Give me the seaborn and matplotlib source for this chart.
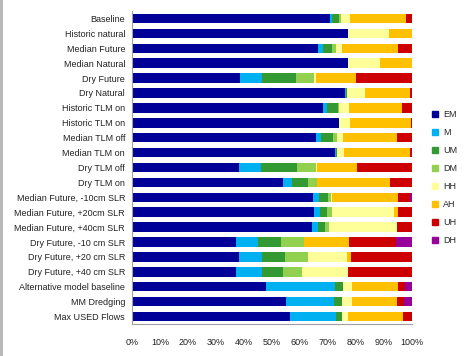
import numpy as np
import pandas as pd
import seaborn as sns
import matplotlib.pyplot as plt
from matplotlib.lines import Line2D
from matplotlib.patches import Rectangle

scenarios = ["Baseline", "Historic natural", "Median Future", "Median Natural",
             "Dry Future", "Dry Natural", "Historic TLM on", "Historic TLM on",
             "Median TLM off", "Median TLM on", "Dry TLM off", "Dry TLM on",
             "Median Future, -10cm SLR", "Median Future, +20cm SLR",
             "Median Future, +40cm SLR", "Dry Future, -10 cm SLR",
             "Dry Future, +20 cm SLR", "Dry Future, +40 cm SLR",
             "Alternative model baseline", "MM Dredging", "Max USED Flows"]

EM = [70.7, 77.1, 66.5, 77.0, 38.7, 76.0, 68.4, 74.1, 65.7, 72.7, 38.1,
      53.9, 64.8, 65.0, 64.4, 37.2, 38.1, 37.3, 48.0, 55.0, 56.5]
M = [0.7, 0, 1.8, 0, 7.7, 0.3, 1.4, 0, 1.8, 0.2, 7.9,
     3.3, 1.9, 2.1, 2.1, 7.8, 8.3, 9.0, 24.4, 17.3, 16.5]
UM = [2.5, 0, 3.3, 0, 12.1, 0.5, 3.7, 0, 4.4, 0.3, 12.9,
      5.7, 3.5, 2.6, 2.3, 8.3, 8.1, 7.5, 2.9, 2.9, 2.2]
DM = [0.6, 0, 1.2, 0, 6.5, 0, 0.6, 0, 1.3, 0, 6.9,
      3.1, 0.8, 1.7, 1.5, 8.0, 8.2, 7.0, 0, 0, 0]
HH = [3.5, 14.7, 2.4, 11.5, 0.6, 6.5, 3.6, 3.8, 2.2, 2.6, 0.2,
      0, 0.6, 22.1, 24.2, 0, 14.1, 16.5, 3.3, 3.4, 2.0]
AH = [20.0, 8.2, 19.9, 11.5, 14.5, 15.9, 18.7, 21.6, 19.3, 23.4, 14.4,
      26.0, 23.4, 1.4, 0, 16.3, 1.6, 0, 16.3, 16.1, 19.7]
UH = [2.0, 0, 4.9, 0, 19.9, 0.8, 3.6, 0.5, 5.3, 0.8, 19.6,
      8.0, 4.4, 5.1, 5.5, 16.7, 21.6, 22.7, 2.5, 2.3, 3.1]
DH = [0, 0, 0, 0, 0, 0, 0, 0, 0, 0, 0,
      0, 0.6, 0, 0, 5.7, 0, 0, 2.6, 3.0, 0]

series = ["EM", "M", "UM", "DM", "HH", "AH", "UH", "DH"]
colors = ["#000099", "#00B0F0", "#339933", "#92D050",
          "#FFFF99", "#FFC000", "#CC0000", "#990099"]

df = pd.DataFrame({"EM": EM, "M": M, "UM": UM, "DM": DM,
                   "HH": HH, "AH": AH, "UH": UH, "DH": DH})
# two rows share a name, so bars are keyed by row number
df["row"] = [str(i) for i in range(len(scenarios))]
# cumulative ends, drawn from the last segment back so each covers the next
cum = df[series].cumsum(axis=1)

sns.set_style("white")
plt.rcParams["font.family"] = ["Liberation Sans", "DejaVu Sans"]
fs = 6.5

fig = plt.figure(figsize=(4.74, 3.56), dpi=100)
ax = fig.add_axes([0.2785, 0.090, 0.5905, 0.879])

for s, c in reversed(list(zip(series, colors))):
    sns.barplot(x=cum[s], y=df["row"], orient="h", color=c, saturation=1,
                width=0.64, linewidth=0, ax=ax, errorbar=None)

ax.set_xlim(0, 100)
ax.set_ylim(len(scenarios) - 0.5, -0.5)
ax.set_xticks(np.arange(0, 101, 10))
ax.set_xticklabels([f"{v}%" for v in range(0, 101, 10)])
ax.set_yticks(range(len(scenarios)))
ax.set_yticklabels(scenarios)
ax.set_yticks(np.arange(-0.5, len(scenarios), 1), minor=True)
ax.set_xlabel("")
ax.set_ylabel("")

ax.tick_params(axis="y", which="major", length=0, labelsize=fs, colors="#222222", pad=5)
ax.tick_params(axis="y", which="minor", length=3, color="#a0a0a0", direction="out")
ax.tick_params(axis="x", length=3, color="#a0a0a0", labelsize=fs, labelcolor="#222222", pad=7)
for sp in ["top", "right"]:
    ax.spines[sp].set_visible(False)
for sp in ["left", "bottom"]:
    ax.spines[sp].set_color("#a0a0a0")
    ax.spines[sp].set_linewidth(0.8)

handles = [Line2D([], [], marker="s", linestyle="", markersize=4.5,
                  markerfacecolor=c, markeredgecolor=c) for c in colors]
fig.legend(handles, series, loc="center left", bbox_to_anchor=(0.905, 0.501),
           frameon=False, fontsize=fs, handlelength=0.6, handletextpad=0.6,
           labelspacing=1.0, borderaxespad=0)

fig.patches.append(Rectangle((0, 0), 0.007, 1, transform=fig.transFigure,
                             facecolor="#b8b8b8", edgecolor="none"))

fig.savefig("out.png", dpi=100)
